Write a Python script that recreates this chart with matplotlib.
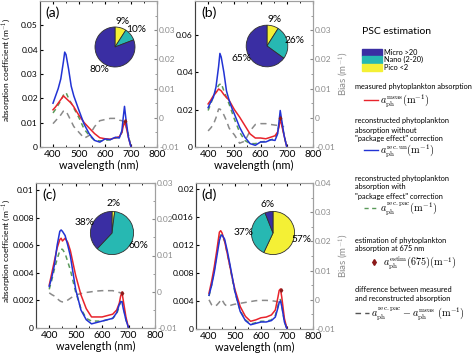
import numpy as np
import matplotlib.pyplot as plt
from matplotlib.lines import Line2D
from matplotlib.patches import Patch

plt.rcParams['font.family'] = ['Lato', 'DejaVu Sans']
plt.rcParams['mathtext.fontset'] = 'cm'

# wavelength grid (nm)
wl = [400, 410, 420, 430, 440, 445, 450, 460, 470, 480, 490, 500, 520, 540, 560,
      580, 600, 620, 640, 655, 665, 670, 675, 680, 690, 700]

# panel (a)
meas_a = [.0153, .0165, .018, .0195, .021, .0205, .020, .019, .018, .0165, .0147, .013, .010, .0077, .0055,
          .0038, .0034, .0032, .0038, .0042, .006, .0085, .010, .009, .004, 0]
recun_a = [.018, .021, .024, .028, .035, .039, .038, .032, .025, .021, .018, .015, .0093, .0053, .0027,
           .002, .0033, .003, .004, .0037, .0067, .012, .0167, .012, .004, 0]
recpac_a = [.014, .0155, .0173, .019, .0213, .022, .0224, .020, .018, .016, .014, .012, .0073, .0047, .0027,
            .0025, .0027, .003, .0037, .004, .006, .0085, .0107, .009, .005, 0]
diff_a = [-.002, -.001, 0, .001, .0023, .0025, .0023, .0006, -.0012, -.003, -.004, -.005, -.007, -.006, -.003,
          -.001, -.0006, -.0002, -.0002, -.0008, -.001, -.0012, -.0015, -.0017, -.0025, np.nan]

# panel (b)
meas_b = [.023, .025, .0274, .029, .031, .0305, .030, .028, .0265, .025, .0225, .020, .016, .0115, .007,
          .0048, .0048, .0044, .0053, .006, .008, .0106, .015, .012, .006, 0]
recun_b = [.021, .024, .0265, .032, .043, .050, .048, .040, .030, .025, .021, .0177, .0106, .0053, .0018,
           .0009, .0027, .0027, .0039, .0035, .007, .013, .0195, .015, .006, 0]
recpac_b = [.0195, .023, .027, .030, .033, .0335, .034, .030, .0265, .023, .019, .015, .008, .0035, .0018,
            .0018, .0027, .003, .0039, .0045, .0075, .012, .016, .013, .006, 0]
diff_b = [-.0045, -.0035, -.0023, 0, .003, .003, .0025, .001, -.001, -.0035, -.0048, -.0058, -.0087, -.008, -.0045,
          -.0023, -.002, -.002, -.0023, -.0025, -.0026, -.0028, -.003, -.003, -.003, np.nan]

# panel (c)
meas_c = [.0031, .0040, .0049, .0058, .0064, .0065, .0063, .0065, .0062, .0056, .0047, .0038, .0024, .0014, .0008,
          .0008, .0008, .0009, .0010, .0013, .0018, .0023, .0026, .0020, .0008, 0]
recun_c = [.003, .0037, .0046, .006, .0070, .0071, .0070, .0067, .0060, .0052, .004, .0028, .0013, .0006, .0003,
           .0004, .0005, .0006, .0007, .0011, .0017, .0019, .0019, .0014, .0006, 0]
recpac_c = [.0028, .0035, .0043, .0050, .0056, .0057, .0057, .0054, .0048, .0042, .0034, .0026, .0014, .0007, .0005,
            .0005, .0005, .0006, .0007, .0010, .0016, .0019, .0021, .0016, .0006, 0]
diff_c = [-.0003, -.0008, -.0012, -.0019, -.0025, -.0027, -.0028, -.0028, -.0023, -.0018, -.0013, -.0009, -.0005, -.0002, 0,
          .0002, .0003, .0003, .0003, 0, -.0002, -.0003, -.0003, np.nan, np.nan, np.nan]

# panel (d)
meas_d = [.0051, .0068, .0088, .0112, .0138, .014, .0137, .0125, .0108, .009, .0072, .0056, .0032, .0018, .0011,
          .0013, .0016, .0017, .0020, .0027, .0045, .0055, .0057, .0045, .0015, 0]
recun_d = [.0048, .0062, .0080, .0103, .0126, .0132, .0134, .0128, .0112, .0093, .0073, .0053, .0025, .0012, .0006,
           .0008, .0010, .0010, .0012, .0017, .0030, .0038, .0040, .0032, .0010, 0]
recpac_d = [.0047, .0063, .0083, .0107, .0130, .0134, .0133, .0125, .0108, .0090, .0070, .0052, .0026, .0013, .0007,
            .0009, .0011, .0011, .0013, .0019, .0033, .0040, .0042, .0033, .0011, 0]
diff_d = [0, -.0017, -.0023, -.0018, -.0008, .0002, 0, -.0015, -.0023, -.0020, -.0017, -.0015, -.0012, -.0009, -.0006,
          -.0003, -.0002, -.0002, -.0003, -.0005, -.0007, -.0008, -.0009, -.001, np.nan, np.nan]

est675 = [0.0105, 0.0155, 0.0025, 0.0055]

# size classes: pico, nano, micro (%)
psc_labels = ['Micro >20', 'Nano (2-20)', 'Pico <2']
pie_a = [9, 10, 80]
pie_b = [9, 26, 65]
pie_c = [2, 60, 38]
pie_d = [57, 37, 6]

ylims = [0.06, 0.078, 0.0105, 0.0208]
yticks = [np.arange(0, 0.051, 0.01), np.arange(0, 0.061, 0.02), np.arange(0, 0.0101, 0.002), np.arange(0, 0.0201, 0.004)]
ytlabels = [['0', '0.01', '0.02', '0.03', '0.04', '0.05'], ['0', '0.02', '0.04', '0.06'],
            ['0', '0.002', '0.004', '0.006', '0.008', '0.01'], ['0', '0.004', '0.008', '0.012', '0.016', '0.02']]
bias_top = [0.04, 0.04, 0.03, 0.04]
bias_lab_top = [0.03, 0.03, 0.03, 0.04]

c_red = '#e8232b'
c_blue = '#2233d4'
c_green = '#5a9a5a'
c_gray = '#8a8a8a'
c_micro = '#3a2ea3'
c_nano = '#27b8b2'
c_pico = '#f4f035'

W, H = 474, 356
fig = plt.figure(figsize=(W / 100, H / 100), dpi=100)


def px(l, t, r, b):
    return [l / W, 1 - b / H, (r - l) / W, (b - t) / H]


boxes = [(40, 1, 157, 147), (195, 1, 313, 147), (36, 183, 155, 328), (196, 183, 313, 329)]
pie_boxes = [(115, 47, 25), (267, 46, 26), (112, 233, 27), (273, 233, 27)]
panels = [(meas_a, recun_a, recpac_a, diff_a, pie_a), (meas_b, recun_b, recpac_b, diff_b, pie_b),
          (meas_c, recun_c, recpac_c, diff_c, pie_c), (meas_d, recun_d, recpac_d, diff_d, pie_d)]

for i, (meas, recun, recpac, diff, pie) in enumerate(panels):
    l, t, r_, b = boxes[i]
    ax = fig.add_axes(px(l, t, r_, b))
    ax2 = ax.twinx()
    ax2.plot(wl, diff, color=c_gray, lw=1.1, ls=(0, (4, 3)))
    ax2.set_ylim(-0.01, bias_top[i])
    bt = np.arange(-0.01, bias_lab_top[i] + 0.001, 0.01)
    ax2.set_yticks(bt)
    ax2.set_yticklabels(['-0.01', '0'] + ['%.2f' % v for v in bt[2:]])
    ax2.yaxis.set_minor_locator(plt.MultipleLocator(0.005))
    ax2.tick_params(axis='y', which='both', colors=c_gray, labelsize=6, direction='in', pad=1.5, length=2.5)
    ax2.tick_params(axis='y', which='minor', length=1.5)
    for sp in ax2.spines.values():
        sp.set_color('#a0a0a0')

    ax.plot(wl, recpac, color=c_green, lw=1.1, ls=(0, (3, 2.5)))
    ax.plot(wl, meas, color=c_red, lw=1.1)
    ax.plot(wl, recun, color=c_blue, lw=1.1)
    ax.plot([675], [est675[i]], marker='d', color='#8b1a1a', ms=1.8, ls='none')
    ax.set_zorder(ax2.get_zorder() + 1)
    ax.patch.set_visible(False)
    ax.set_xlim(350, 800)
    ax.set_ylim(0, ylims[i])
    ax.set_xticks([400, 500, 600, 700, 800])
    ax.set_yticks(yticks[i])
    ax.set_yticklabels(ytlabels[i])
    ax.tick_params(labelsize=6.1, direction='in', length=2, pad=1.5, top=True)
    ax.tick_params(axis='x', labelsize=7.3, pad=2)
    ax.xaxis.set_minor_locator(plt.MultipleLocator(50))
    ax.tick_params(axis='x', which='minor', direction='in', length=1.5, top=True)
    for sp in ax.spines.values():
        sp.set_color('#a0a0a0')
    ax.spines['left'].set_color('#404040')
    ax.set_xlabel('wavelength (nm)', fontsize=7.8, labelpad=1)
    ax.text(0.05, 0.96, '(%s)' % 'abcd'[i], transform=ax.transAxes, fontsize=10, va='top')
    if i in (0, 2):
        ax.set_ylabel('absorption coefficient (m$^{-1}$)', fontsize=6)
        ax.yaxis.set_label_coords((13.5 - l) / (r_ - l), 0.53)
    if i in (1, 3):
        ax2.set_ylabel('Bias (m$^{-1}$)', fontsize=7, color=c_gray, labelpad=1)

    cx, cy, r = pie_boxes[i]
    pax = fig.add_axes(px(cx - r, cy - r, cx + r, cy + r))
    wedges, texts = pax.pie(pie, colors=[c_pico, c_nano, c_micro], startangle=90, counterclock=False,
                            labels=['%d%%' % v for v in pie], labeldistance=1.35,
                            wedgeprops=dict(edgecolor='#303030', linewidth=0.6),
                            textprops=dict(fontsize=7.3))
    for tx in texts:
        tx.set_ha('center')
        tx.set_va('center')
    pax.set_aspect('equal')

# legend area
fs = 5.3
fig.text(362 / W, 1 - 32 / H, 'PSC estimation', fontsize=7.5, va='center')
fig.legend(handles=[Patch(color=c_micro), Patch(color=c_nano), Patch(color=c_pico)], labels=psc_labels,
           loc='upper left', bbox_to_anchor=(358 / W, 1 - 45 / H), frameon=False, fontsize=fs,
           handlelength=2.8, handleheight=1.1, labelspacing=0.05, handletextpad=0.2, borderpad=0)


def entry(lines, y0, handle, label, y1, x1=359):
    for k, s in enumerate(lines):
        fig.text(355 / W, 1 - (y0 + 9 * k) / H, s, fontsize=fs, va='center')
    fig.legend(handles=[handle], labels=[label], loc='center left', bbox_to_anchor=(x1 / W, 1 - y1 / H),
               frameon=False, fontsize=7.3, handlelength=1.4, handletextpad=0.2, borderpad=0)


entry(['measured phytoplankton absorption'], 87, Line2D([], [], color=c_red, lw=1),
      r'$a_{\mathrm{ph}}^{\mathrm{meas}}(\mathrm{m}^{-1})$', 101)
entry(['reconstructed phytoplankton', 'absorption without', '"package effect" correction'], 121,
      Line2D([], [], color=c_blue, lw=1), r'$a_{\mathrm{ph}}^{\mathrm{rec.un}}(\mathrm{m}^{-1})$', 151)
entry(['reconstructed phytoplankton', 'absorption with', '"package effect" correction'], 178,
      Line2D([], [], color=c_green, lw=1, ls=(0, (3, 2.5))), r'$a_{\mathrm{ph}}^{\mathrm{rec.pac}}(\mathrm{m}^{-1})$', 209)
entry(['estimation of phytoplankton', 'absorption at 675 nm'], 240,
      Line2D([], [], color='#8b1a1a', marker='d', ms=3, ls='none'),
      r'$a_{\mathrm{ph}}^{\mathrm{estim}}(675)(\mathrm{m}^{-1})$', 263, x1=362)
entry(['difference between measured', 'and reconstructed absorption'], 289,
      Line2D([], [], color='#555555', lw=1, ls=(0, (4, 3))),
      r'$a_{\mathrm{ph}}^{\mathrm{rec.pac}} - a_{\mathrm{ph}}^{\mathrm{meas}}\ (\mathrm{m}^{-1})$', 314, x1=350)

fig.savefig('out.png', dpi=100)
